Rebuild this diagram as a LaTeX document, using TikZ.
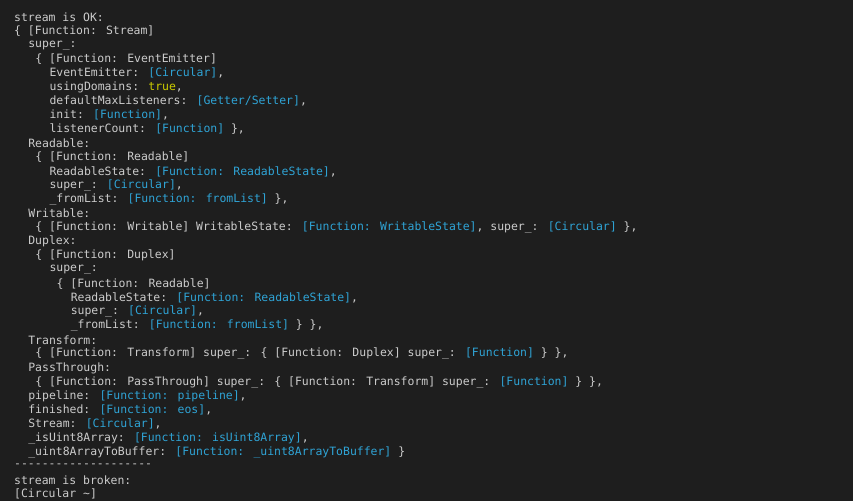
\documentclass[tikz,border=0pt]{standalone}
\usepackage{fontspec}
\newfontfamily\termfont{DejaVu Sans Mono}
\definecolor{bg}{HTML}{1E1E1E}
\definecolor{fg}{HTML}{CCCCCC}
\definecolor{cy}{HTML}{2FA4D6}
\definecolor{yl}{HTML}{CDCD00}
\newcommand{\cq}[1]{\textcolor{cy}{#1}}
\newcommand{\yq}[1]{\textcolor{yl}{#1}}
\tikzset{ln/.style={anchor=west,inner sep=0pt,text=fg,font=\termfont\fontsize{11.45pt}{14pt}\selectfont}}
\newcommand{\tl}[3]{\node[ln] (l#1) at ({14+7.07*#2},{501-3.2-14.03*#1}) {#3};}
\begin{document}
\begin{tikzpicture}[x=1pt,y=1pt]
\fill[bg] (0,0) rectangle (853,501);
\useasboundingbox (0,0) rectangle (853,501);
\tl{1}{0}{stream is OK:}
\tl{2}{0}{\{ [Function: Stream]}
\tl{3}{2}{super\_:}
\tl{4}{3}{\{ [Function: EventEmitter]}
\tl{5}{5}{EventEmitter: \cq{[Circular]},}
\tl{6}{5}{usingDomains: \yq{true},}
\tl{7}{5}{defaultMaxListeners: \cq{[Getter/Setter]},}
\tl{8}{5}{init: \cq{[Function]},}
\tl{9}{5}{listenerCount: \cq{[Function]} \},}
\tl{10}{2}{Readable:}
\tl{11}{3}{\{ [Function: Readable]}
\tl{12}{5}{ReadableState: \cq{[Function: ReadableState]},}
\tl{13}{5}{super\_: \cq{[Circular]},}
\tl{14}{5}{\_fromList: \cq{[Function: fromList]} \},}
\tl{15}{2}{Writable:}
\tl{16}{3}{\{ [Function: Writable] WritableState: \cq{[Function: WritableState]}, super\_: \cq{[Circular]} \},}
\tl{17}{2}{Duplex:}
\tl{18}{3}{\{ [Function: Duplex]}
\tl{19}{5}{super\_:}
\tl{20}{6}{\{ [Function: Readable]}
\tl{21}{8}{ReadableState: \cq{[Function: ReadableState]},}
\tl{22}{8}{super\_: \cq{[Circular]},}
\tl{23}{8}{\_fromList: \cq{[Function: fromList]} \} \},}
\tl{24}{2}{Transform:}
\tl{25}{3}{\{ [Function: Transform] super\_: \{ [Function: Duplex] super\_: \cq{[Function]} \} \},}
\tl{26}{2}{PassThrough:}
\tl{27}{3}{\{ [Function: PassThrough] super\_: \{ [Function: Transform] super\_: \cq{[Function]} \} \},}
\tl{28}{2}{pipeline: \cq{[Function: pipeline]},}
\tl{29}{2}{finished: \cq{[Function: eos]},}
\tl{30}{2}{Stream: \cq{[Circular]},}
\tl{31}{2}{\_isUint8Array: \cq{[Function: isUint8Array]},}
\tl{32}{2}{\_uint8ArrayToBuffer: \cq{[Function: \_uint8ArrayToBuffer]} \}}
\tl{33}{0}{--------------------}
\tl{34}{0}{stream is broken:}
\tl{35}{0}{[Circular \textasciitilde]}
\end{tikzpicture}
\end{document}
